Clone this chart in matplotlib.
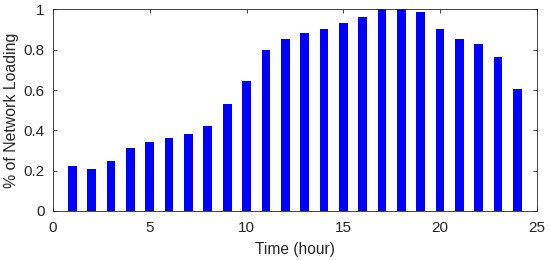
import matplotlib
matplotlib.use('Agg')
import matplotlib.pyplot as plt

hours = list(range(1, 25))
loading = [0.225, 0.21, 0.25, 0.315, 0.344, 0.361, 0.381, 0.424, 0.533, 0.646,
           0.80, 0.853, 0.882, 0.904, 0.934, 0.964, 1.0, 1.0, 0.99, 0.904,
           0.853, 0.831, 0.763, 0.603]
xticks = [0, 5, 10, 15, 20, 25]
yticks = [0, 0.2, 0.4, 0.6, 0.8, 1]

plt.rcParams['font.family'] = ['Liberation Sans', 'DejaVu Sans']

fig = plt.figure(figsize=(5.5, 2.6), dpi=100)
ax = fig.add_axes([0.0964, 0.1885, 0.8796, 0.775])
ax.bar(hours, loading, width=0.45, color='#0000ff')

ax.set_xlim(0, 25)
ax.set_ylim(0, 1)
ax.set_xticks(xticks)
ax.set_yticks(yticks)
ax.set_xticklabels([str(t) for t in xticks])
ax.set_yticklabels(['0', '0.2', '0.4', '0.6', '0.8', '1'])
ax.tick_params(direction='in', top=True, right=True, length=3,
               labelsize=11, colors='#262626', width=0.6)
ax.tick_params(axis='x', pad=7)
ax.tick_params(axis='y', pad=6)
for s in ax.spines.values():
    s.set_color('#262626')
    s.set_linewidth(0.6)
ax.set_xlabel('Time (hour)', fontsize=11.2, color='#262626', labelpad=5)
ax.set_ylabel('% of Network Loading', fontsize=11.4, color='#262626', labelpad=3)

fig.savefig('out.png', dpi=100)
